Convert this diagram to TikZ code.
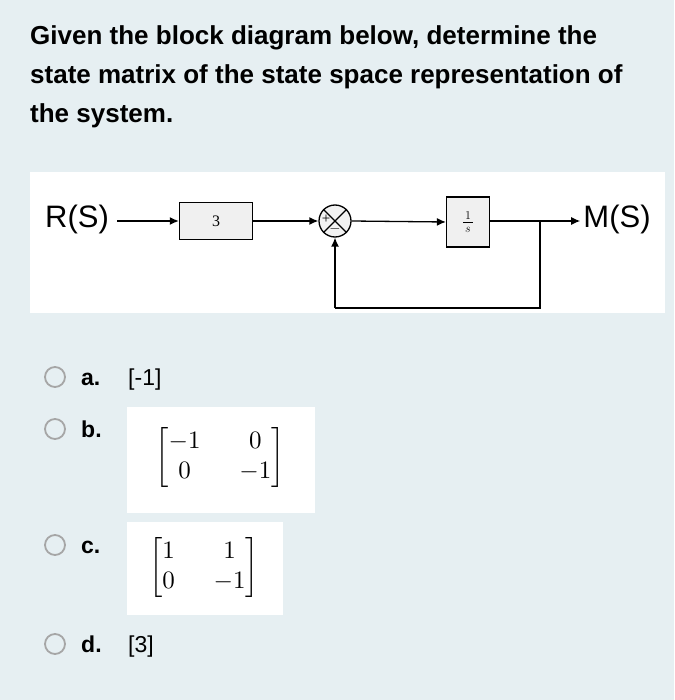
\documentclass[tikz,border=0pt]{standalone}
\usepackage{fontspec}
\usepackage{amsmath}
\setmainfont{Liberation Sans}
\newfontfamily\serif{Liberation Serif}
\usetikzlibrary{arrows.meta}
\definecolor{bgc}{HTML}{E6EFF2}
\tikzset{
 ttl/.style={anchor=base west,inner sep=0pt,font=\fontsize{26}{30}\selectfont\bfseries},
 lab/.style={inner sep=0pt,font=\fontsize{31}{36}\selectfont},
 blk/.style={draw,fill=gray!12,line width=1.3pt,inner sep=0pt},
 sig/.style={line width=1.3pt,-{Latex[length=9pt,width=8pt]}},
 wire/.style={line width=1.3pt},
 radio/.style={draw=gray!70,line width=1.8pt,circle,minimum size=20pt,inner sep=0pt},
 opt/.style={anchor=base west,inner sep=0pt,font=\fontsize{23}{28}\selectfont\bfseries},
 ans/.style={anchor=base west,inner sep=0pt,font=\fontsize{23}{28}\selectfont},
 mat/.style={inner sep=0pt,font=\normalsize,scale=2.5,transform shape}
}
\begin{document}
\begin{tikzpicture}[x=1pt,y=-1pt]
\fill[bgc] (0,0) rectangle (674,700);
\useasboundingbox (0,0) rectangle (674,700);
\node[ttl] (t1) at (30,45) {Given the block diagram below, determine the};
\node[ttl] (t2) at (30,84) {state matrix of the state space representation of};
\node[ttl] (t3) at (30,123) {the system.};
\fill[white] (30,172) rectangle (665,313);
\node[lab] (R) at (77,219) {R(S)};
\node[blk,minimum width=73pt,minimum height=37pt] (g) at (216,221) {\serif\fontsize{16}{18}\selectfont 3};
\node[draw,circle,line width=1.3pt,fill=gray!10,minimum size=32pt,inner sep=0pt] (s) at (335,221) {};
\draw[line width=1.1pt] (s.north west)--(s.south east) (s.north east)--(s.south west);
\node[font=\serif\fontsize{15}{16}\selectfont,inner sep=0pt] (pl) at (326,219) {+};
\node[font=\serif\fontsize{15}{16}\selectfont,inner sep=0pt] (mi) at (335,229) {$-$};
\node[blk,minimum width=43pt,minimum height=50pt] (h) at (468,222) {\serif\fontsize{18}{20}\selectfont$\frac{1}{\,s\,}$};
\node[lab] (M) at (617,219) {M(S)};
\coordinate (br) at (540,221);
\coordinate (b1) at (540,308);
\coordinate (b2) at (s.south|-b1);
\coordinate (r0) at (117,221);
\draw[sig] (r0) -- (g.west);
\draw[sig] (g.east) -- (s.west);
\draw[sig] (s.east) -- (h.west);
\draw[sig] (h.east|-br) -- ([xshift=-3pt]M.west|-br);
\draw[wire] (br) -- (b1) -- (b2);
\draw[sig] (b2) -- (s.south);
% options
\node[radio] (ra) at (55,377) {};
\node[opt] (la) at (81,385) {a.};
\node[ans] (aa) at (128,385) {[-1]};
\fill[white] (127,407) rectangle (315,513);
\node[radio] (rb) at (55,429) {};
\node[opt] (lb) at (81,437) {b.};
\node[mat] (mb) at (220,457) {$\begin{bmatrix}-1 & \;\;0\\ 0 & \;\;-1\end{bmatrix}$};
\fill[white] (127,522) rectangle (283,615);
\node[radio] (rc) at (55,545) {};
\node[opt] (lc) at (81,553) {c.};
\node[mat] (mc) at (204,567) {$\begin{bmatrix}1 & \;\;1\\ 0 & \;\;-1\end{bmatrix}$};
\node[radio] (rd) at (55,644) {};
\node[opt] (ld) at (81,652) {d.};
\node[ans] (ad) at (128,652) {[3]};
\end{tikzpicture}
\end{document}
